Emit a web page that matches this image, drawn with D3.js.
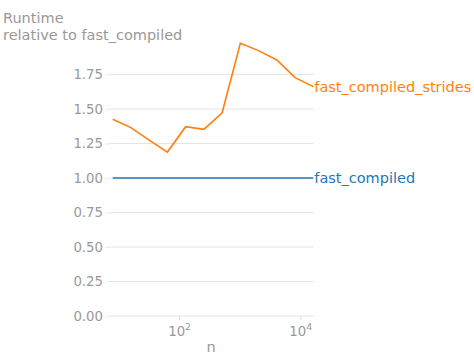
<!DOCTYPE html>
<html><head><meta charset="utf-8">
<script src="https://cdn.jsdelivr.net/npm/d3@7"></script>
<style>body{margin:0;background:#fff}svg{display:block;font-family:"DejaVu Sans",sans-serif}</style>
</head><body><svg id="c" width="474" height="355"></svg>
<script>
const nValues = [8,16,32,64,128,256,512,1024,2048,4096,8192,16384];
const fastCompiled = [1,1,1,1,1,1,1,1,1,1,1,1];
const fastCompiledStrides = [1.425,1.365,1.275,1.188,1.372,1.353,1.473,1.976,1.923,1.855,1.727,1.662];
const seriesNames = ["fast_compiled","fast_compiled_strides"];
const seriesColors = ["#1f77b4","#ff7f0e"];
const yTicks = [0,0.25,0.5,0.75,1,1.25,1.5,1.75];
const xTicks = [100,10000];
const titleLines = ["Runtime","relative to fast_compiled"];
const xTitle = "n";

const svg = d3.select("#c");
const x = d3.scaleLog().domain([8,16384]).range([112.7,313.3]);
const y = d3.scaleLinear().domain([0,1.75]).range([316,74.5]);
const grey = "#999";
const tickFont = 13.3;

// gridlines
svg.append("g").selectAll("line").data(yTicks).join("line")
  .attr("x1",109).attr("x2",313.5).attr("y1",d=>y(d)).attr("y2",d=>y(d))
  .attr("stroke","#e5e5e5").attr("stroke-width",1);

// y axis
const yAxis = d3.axisLeft(y).tickValues(yTicks).tickFormat(d3.format(".2f")).tickSize(4).tickPadding(2);
const gy = svg.append("g").attr("transform","translate(109,0)").call(yAxis);
gy.select(".domain").remove();
gy.selectAll("line").attr("stroke","#ececec");
gy.selectAll("text").attr("fill",grey).attr("font-size",tickFont).attr("font-family","DejaVu Sans");

// x axis
const xAxis = d3.axisBottom(x).tickValues(xTicks).tickSize(4).tickPadding(3).tickFormat(()=> "");
const gx = svg.append("g").attr("transform","translate(0,316)").call(xAxis);
gx.select(".domain").remove();
gx.selectAll("line").attr("stroke","#ddd");
gx.selectAll("text").remove();
gx.selectAll(".tick").each(function(d){
  const t = d3.select(this).append("text").attr("y",20).attr("fill",grey).attr("font-size",tickFont)
    .attr("text-anchor","middle").attr("font-family","DejaVu Sans");
  t.append("tspan").text("10");
  t.append("tspan").attr("dy",-6).attr("font-size",9.5).text(Math.round(Math.log10(d)));
});

svg.append("text").attr("x",211).attr("y",352).attr("text-anchor","middle")
  .attr("fill",grey).attr("font-size",14.5).text(xTitle);

// title
svg.append("g").selectAll("text").data(titleLines).join("text")
  .attr("x",3).attr("y",(d,i)=>23+i*16.5).attr("fill",grey).attr("font-size",14.5).text(d=>d);

// lines
const series = [fastCompiled, fastCompiledStrides];
const line = d3.line().x((d,i)=>x(nValues[i])).y(d=>y(d));
series.forEach((s,k)=>{
  svg.append("path").datum(s).attr("d",line).attr("fill","none")
    .attr("stroke",seriesColors[k]).attr("stroke-width",1.6);
  svg.append("text").attr("x",x(nValues[nValues.length-1])+1).attr("y",y(s[s.length-1]))
    .attr("dy","0.35em").attr("fill",seriesColors[k]).attr("font-size",14.5).text(seriesNames[k]);
});
</script></body></html>
